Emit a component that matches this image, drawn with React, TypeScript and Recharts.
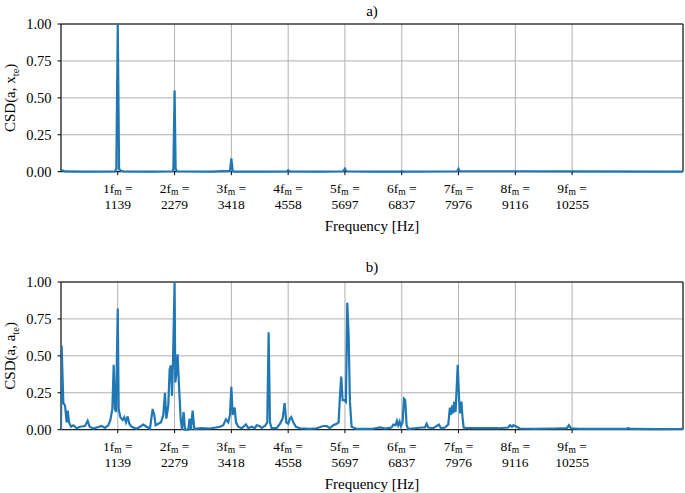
// App.tsx — cross-spectral density plots a) and b)
import React from 'react';
import {
  LineChart,
  Line,
  XAxis,
  YAxis,
  CartesianGrid,
  ReferenceArea,
  Label,
} from 'recharts';

/* ------------------------- data ----------------------------------------- */
// harmonics of the mesh frequency fm
const harmonicTicks = [1139, 2279, 3418, 4558, 5697, 6837, 7976, 9116, 10255];
const harmonicOrders = [1, 2, 3, 4, 5, 6, 7, 8, 9];
const yTicks = [0, 0.25, 0.5, 0.75, 1];
const F_MAX = 12480;

// a) CSD(a, x_te)
const freqA = [
  0, 40, 80, 500, 1080, 1110, 1139, 1165, 1200, 1260, 1800, 2240, 2255, 2279,
  2300, 2330, 3000, 3390, 3418, 3445, 3480, 4000, 4530, 4558, 4585, 5200, 5660,
  5697, 5730, 6300, 6810, 6837, 6860, 7950, 7976, 8000, 9116, 10255, 12480,
];
const csdA = [
  0.01, 0.008, 0.002, 0.001, 0.002, 0.02, 1.0, 0.02, 0.006, 0.002, 0.001, 0.003,
  0.02, 0.55, 0.02, 0.003, 0.001, 0.005, 0.09, 0.005, 0.001, 0.001, 0.002, 0.01,
  0.002, 0.001, 0.003, 0.02, 0.003, 0.001, 0.001, 0.004, 0.001, 0.003, 0.02,
  0.003, 0.003, 0.002, 0.001,
];

// b) CSD(a, a_te)
const freqB = [
  0, 13, 47, 80, 114, 134, 160, 201, 247, 314, 381, 481, 535, 575, 649, 816, 883,
  949, 990, 1030, 1057, 1083, 1103, 1139, 1157, 1190, 1237, 1270, 1304, 1337,
  1371, 1418, 1518, 1585, 1652, 1719, 1785, 1839, 1872, 1899, 1953, 2006, 2053,
  2086, 2113, 2153, 2180, 2207, 2227, 2247, 2279, 2294, 2314, 2340, 2367, 2401,
  2427, 2461, 2487, 2554, 2581, 2608, 2641, 2675, 2822, 2989, 3190, 3256, 3310,
  3357, 3390, 3418, 3444, 3484, 3511, 3557, 3624, 3711, 3758, 3825, 3892, 3925,
  3979, 4025, 4092, 4139, 4166, 4193, 4226, 4326, 4393, 4447, 4487, 4520, 4560,
  4594, 4620, 4661, 4714, 4794, 4995, 5129, 5262, 5329, 5396, 5463, 5530, 5570,
  5597, 5623, 5650, 5690, 5717, 5744, 5771, 5797, 5831, 5931, 6132, 6232, 6399,
  6499, 6633, 6667, 6713, 6740, 6767, 6794, 6820, 6854, 6881, 6907, 6934, 6967,
  7101, 7235, 7302, 7335, 7369, 7469, 7583, 7623, 7703, 7770, 7803, 7823, 7850,
  7870, 7890, 7917, 7960, 7990, 8010, 8035, 8055, 8078, 8171, 8439, 8773, 8973,
  9007, 9050, 9074, 9116, 9141, 9208, 9500, 9900, 10150, 10190, 10230, 10400,
  11000, 11350, 11380, 11420, 12000, 12460, 12480,
];
const csdB = [
  0.0, 0.57, 0.18, 0.165, 0.05, 0.13, 0.05, 0.02, 0.03, 0.01, 0.02, 0.025, 0.06,
  0.02, 0.007, 0.025, 0.012, 0.03, 0.065, 0.14, 0.44, 0.14, 0.12, 0.82, 0.14,
  0.085, 0.065, 0.085, 0.05, 0.09, 0.04, 0.02, 0.007, 0.02, 0.035, 0.02, 0.007,
  0.14, 0.1, 0.03, 0.04, 0.05, 0.1, 0.25, 0.075, 0.165, 0.41, 0.435, 0.23, 0.46,
  1.0, 0.32, 0.38, 0.51, 0.3, 0.075, 0.0, 0.12, 0.0, 0.0, 0.075, 0.0, 0.13,
  0.005, 0.01, 0.008, 0.02, 0.03, 0.07, 0.05, 0.1, 0.29, 0.1, 0.15, 0.05, 0.02,
  0.01, 0.035, 0.01, 0.02, 0.01, 0.03, 0.025, 0.012, 0.025, 0.05, 0.66, 0.05,
  0.01, 0.01, 0.04, 0.075, 0.18, 0.05, 0.04, 0.075, 0.085, 0.05, 0.02, 0.01,
  0.005, 0.01, 0.025, 0.025, 0.01, 0.03, 0.04, 0.05, 0.23, 0.36, 0.2, 0.2, 0.19,
  0.86, 0.64, 0.19, 0.02, 0.005, 0.005, 0.005, 0.015, 0.008, 0.015, 0.035, 0.03,
  0.06, 0.03, 0.055, 0.025, 0.05, 0.21, 0.2, 0.03, 0.005, 0.01, 0.015, 0.015,
  0.04, 0.015, 0.01, 0.035, 0.01, 0.015, 0.035, 0.15, 0.1, 0.165, 0.11, 0.19,
  0.12, 0.44, 0.19, 0.11, 0.19, 0.09, 0.015, 0.01, 0.01, 0.01, 0.015, 0.03, 0.02,
  0.03, 0.025, 0.02, 0.008, 0.006, 0.008, 0.01, 0.03, 0.01, 0.005, 0.005, 0.005,
  0.012, 0.005, 0.004, 0.006, 0.015,
];

const rowsA = freqA.map((f, i) => ({ f, v: csdA[i] }));
const rowsB = freqB.map((f, i) => ({ f, v: csdB[i] }));

/* ------------------------- style ---------------------------------------- */
const FONT = "'Times New Roman', 'Liberation Serif', Times, serif";
const FS = 15;
const TICK_FS = 13.5;
const BLUE = '#1f77b4';
const W = 685;
const H = 235;

/* x tick: "kf_m =" over the frequency value */
const HarmonicTick = (props: any) => {
  const { x, y, payload } = props;
  const k = harmonicOrders[harmonicTicks.indexOf(payload.value)];
  return (
    <g fill="#000" fontSize={TICK_FS} fontFamily={FONT}>
      <text x={x} y={y + 15.5} textAnchor="middle">
        {k}f
        <tspan dy={2.5} fontSize={9.5}>
          m
        </tspan>
        <tspan dy={-2.5}> =</tspan>
      </text>
      <text x={x} y={y + 31.5} textAnchor="middle">
        {payload.value}
      </text>
    </g>
  );
};

const yLabel = (sub: string) => (props: any) => {
  const vb = props.viewBox;
  const cy = vb.y + vb.height / 2;
  return (
    <text
      transform={`translate(15, ${cy}) rotate(-90)`}
      textAnchor="middle"
      fill="#000"
      fontSize={FS}
      fontFamily={FONT}
    >
      CSD(a, {sub.charAt(0)}
      <tspan dy={3.5} fontSize={10.5}>
        {sub.slice(1)}
      </tspan>
      <tspan dy={-3.5}>)</tspan>
    </text>
  );
};

const xLabel = (props: any) => {
  const vb = props.viewBox;
  return (
    <text
      x={vb.x + vb.width / 2}
      y={vb.y + 59}
      textAnchor="middle"
      fill="#000"
      fontSize={FS}
      fontFamily={FONT}
    >
      Frequency [Hz]
    </text>
  );
};

/* ------------------------- one panel ------------------------------------ */
const Panel = ({
  rows,
  sub,
  title,
  top,
  titleTop,
}: {
  rows: { f: number; v: number }[];
  sub: string;
  title: string;
  top: number;
  titleTop: number;
}) => (
  <div style={{ position: 'absolute', left: 0, top, width: W, height: H }}>
    <div
      style={{
        position: 'absolute',
        left: 61,
        width: 622,
        top: titleTop,
        textAlign: 'center',
        fontFamily: FONT,
        fontSize: FS,
        lineHeight: '18px',
      }}
    >
      {title}
    </div>
    <LineChart
      width={W}
      height={H}
      data={rows}
      margin={{ top: 24, right: 2, left: 0, bottom: 0 }}
    >
      <CartesianGrid stroke="#b0b0b0" strokeWidth={1} />
      <XAxis
        dataKey="f"
        type="number"
        domain={[0, F_MAX]}
        ticks={harmonicTicks}
        interval={0}
        allowDataOverflow
        height={H - 24 - 147.7}
        tick={<HarmonicTick />}
        tickSize={3.5}
        tickLine={{ stroke: '#000' }}
        axisLine={false}
      >
        <Label content={xLabel} />
      </XAxis>
      <YAxis
        type="number"
        domain={[0, 1]}
        ticks={yTicks}
        width={61}
        tickFormatter={(n: number) => n.toFixed(2)}
        tick={{ fill: '#000', fontSize: 14.5, fontFamily: FONT }}
        tickSize={3.5}
        tickMargin={6}
        tickLine={{ stroke: '#000' }}
        axisLine={false}
      >
        <Label content={yLabel(sub)} />
      </YAxis>
      <Line
        dataKey="v"
        type="linear"
        stroke={BLUE}
        strokeWidth={2.2}
        dot={false}
        isAnimationActive={false}
      />
      <ReferenceArea
        x1={0}
        x2={F_MAX}
        y1={0}
        y2={1}
        fill="none"
        stroke="#000"
        strokeWidth={1}
        ifOverflow="visible"
      />
    </LineChart>
  </div>
);

export default function App() {
  return (
    <div
      style={{
        position: 'absolute',
        left: 0,
        top: 0,
        width: W,
        height: 493,
        background: '#fff',
      }}
    >
      <Panel rows={rowsA} sub="xte" title="a)" top={0} titleTop={2} />
      <Panel rows={rowsB} sub="ate" title="b)" top={258.3} titleTop={0} />
    </div>
  );
}
